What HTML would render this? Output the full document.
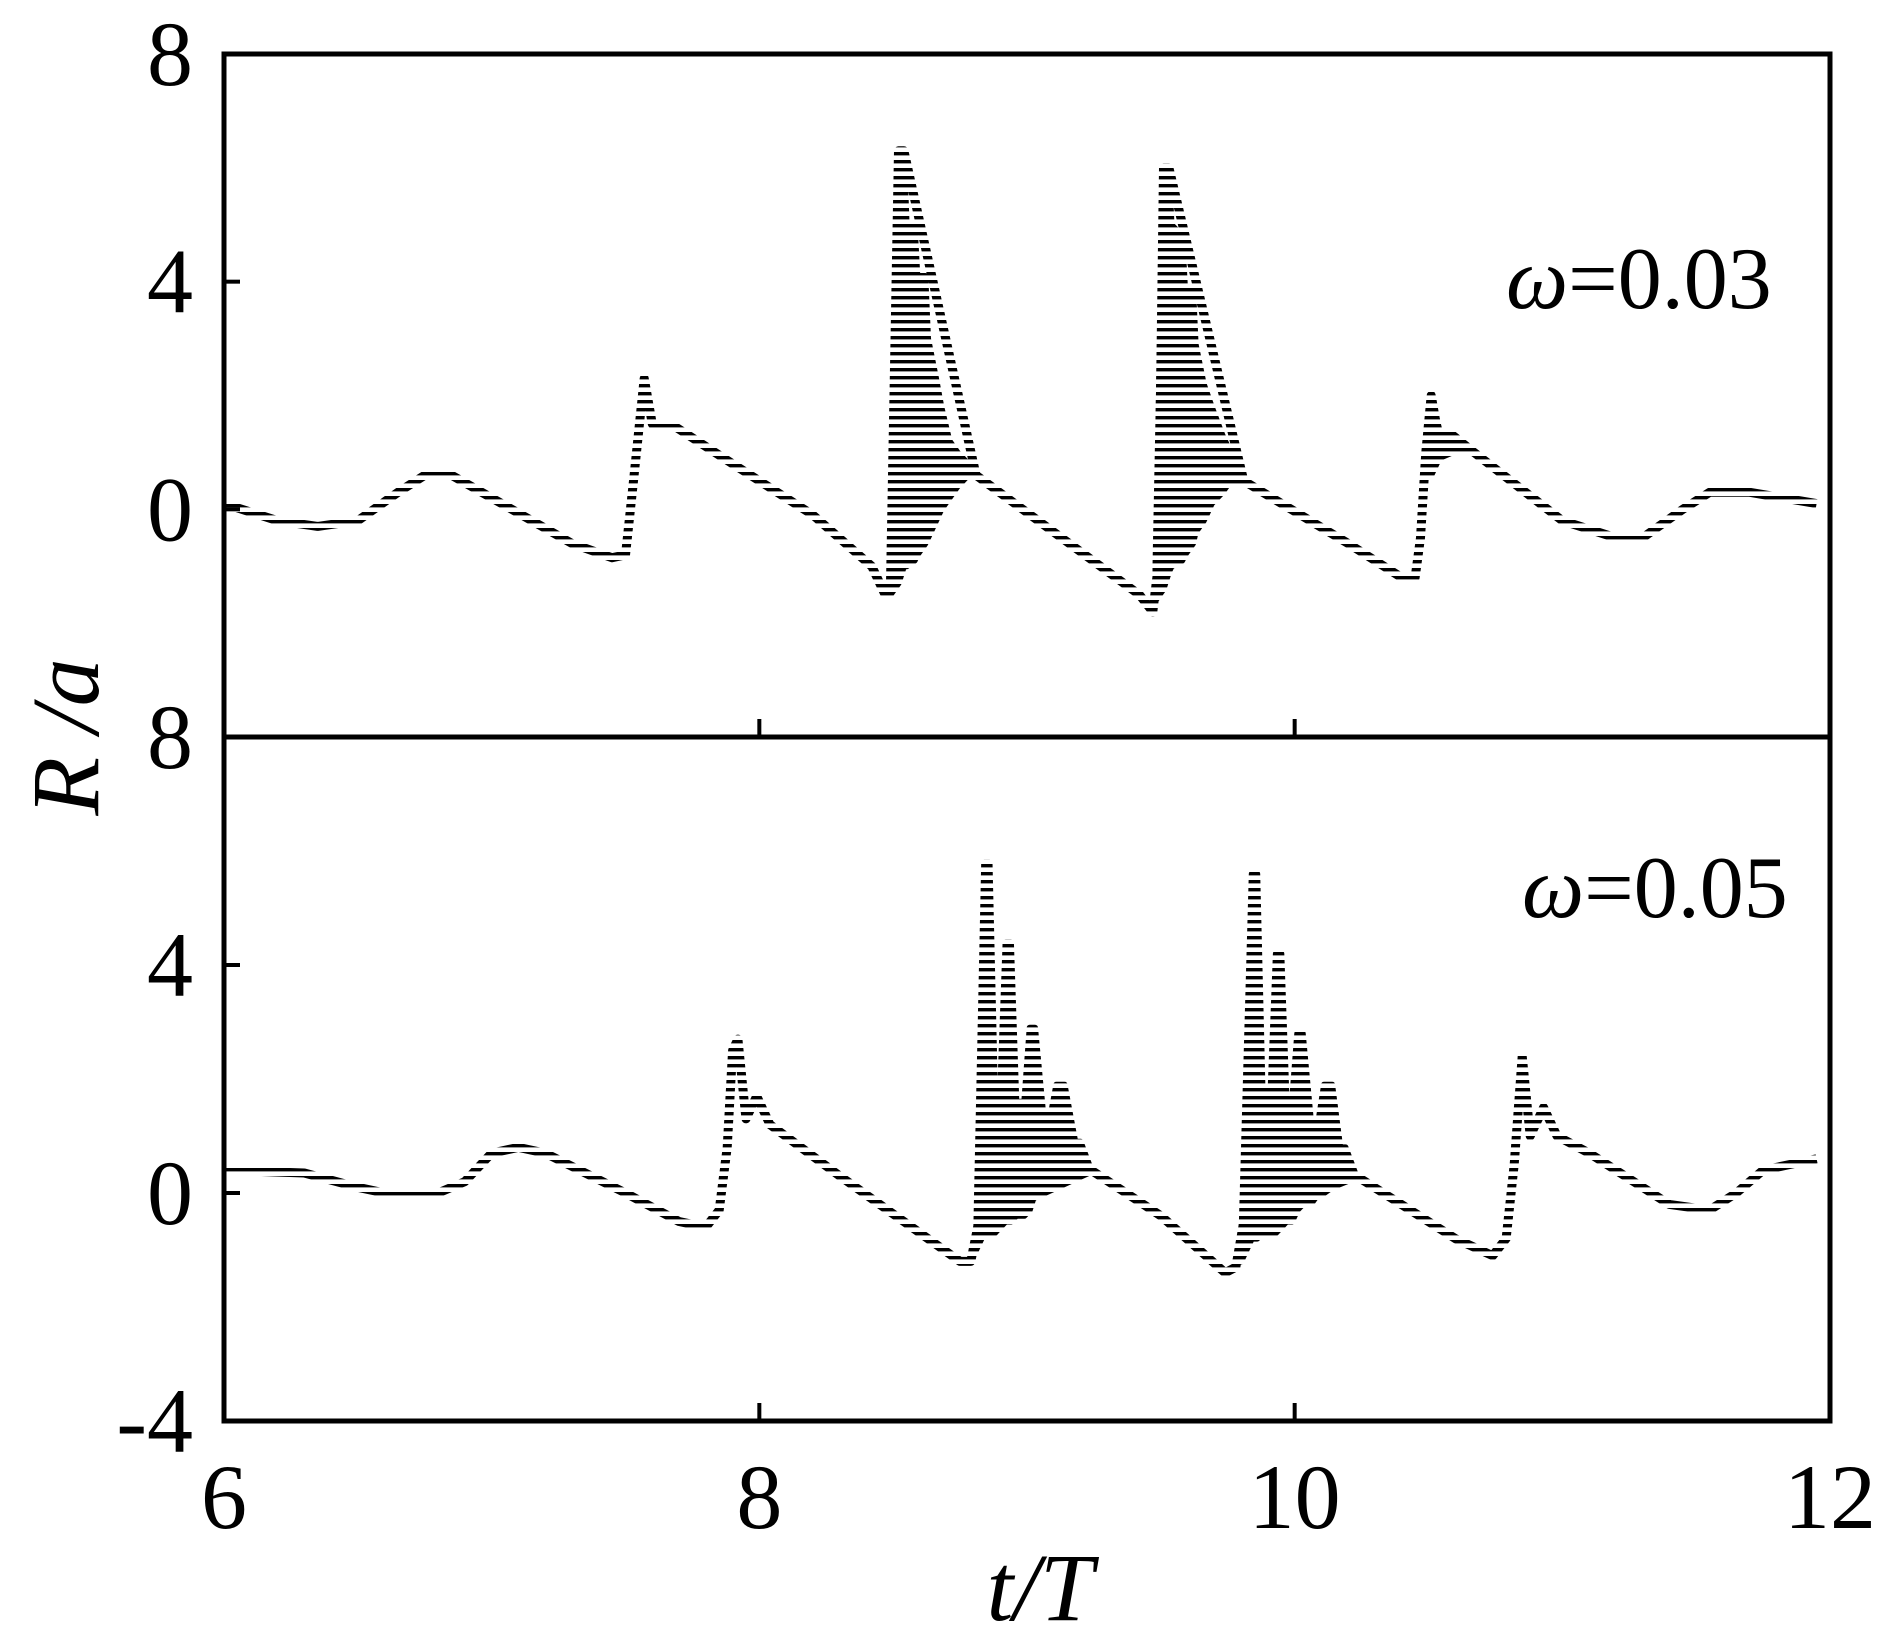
<!DOCTYPE html>
<html><head><meta charset="utf-8"><style>
html,body{margin:0;padding:0;background:#fff;}
svg{display:block;}
text{font-family:"Liberation Serif","Times New Roman",Times,serif;fill:#000;}
</style></head><body>
<svg id="chart" width="1882" height="1642" viewBox="0 0 1882 1642" xmlns="http://www.w3.org/2000/svg">
<defs>
<pattern id="stripes" x="0" y="0" width="20" height="8" patternUnits="userSpaceOnUse">
<rect x="0" y="0" width="20" height="3.4" fill="#fff"/>
</pattern>
<mask id="stripeMask" maskUnits="userSpaceOnUse" x="0" y="0" width="1882" height="1642">
<rect x="0" y="0" width="1882" height="1642" fill="url(#stripes)"/>
</mask>
</defs>
<g id="marks" mask="url(#stripeMask)"></g>
<g id="axes"></g>
</svg>
<script>
// ---- data ----
const xTicks = [6, 8, 10, 12];
const yTicks = [8, 4, 0, -4];
// top panel (omega = 0.03) curve
const topT = [6.0,6.2,6.35,6.5,6.65,6.75,6.85,7.0,7.3,7.45,7.5,7.53,7.57,7.6,7.67,7.9,8.2,8.42,8.47,8.49,8.52,8.54,8.81,9.1,9.42,9.47,9.49,9.51,9.53,9.81,10.2,10.4,10.45,10.47,10.49,10.51,10.54,10.59,10.67,11.0,11.2,11.3,11.45,11.55,11.7,11.95];
const topR = [0.1,-0.2,-0.3,-0.2,0.3,0.6,0.6,0.2,-0.6,-0.85,-0.8,0.5,2.3,1.5,1.5,0.8,-0.1,-1.0,-1.5,-1.3,6.3,6.3,0.6,-0.4,-1.5,-1.8,-1.0,6.0,6.0,0.5,-0.6,-1.2,-1.2,-0.5,1.0,2.0,1.2,1.3,1.0,-0.2,-0.5,-0.5,0.0,0.3,0.3,0.1];
// top panel oscillation envelopes
const topEnvT = [8.49,8.52,8.54,8.55,8.58,8.59,8.62,8.63,8.66,8.68,8.71,8.74,8.78,8.81, 9.48,9.51,9.53,9.54,9.58,9.59,9.62,9.63,9.66,9.69,9.73,9.76,9.81, 10.49,10.51,10.54,10.59,10.63];
const topEnvHi = [-1,6.3,6.3,5.0,5.0,4.1,4.1,3.0,2.3,1.8,1.2,1.0,0.8,0.6, -1,6.0,6.0,5.0,4.8,3.9,3.9,2.9,2.2,1.8,1.3,1.0,0.6, 1.0,2.0,1.4,1.3,1.0];
const topEnvLo = [-1.5,-1.3,-1.0,-1.0,-0.9,-0.8,-0.6,-0.5,-0.2,0.0,0.2,0.4,0.6,0.6, -1.6,-1.4,-1.1,-1.0,-0.9,-0.8,-0.6,-0.4,-0.2,0.1,0.3,0.5,0.5, 0.9,0.6,0.9,1.0,1.0];
const topEnvGroup = [0,0,0,0,0,0,0,0,0,0,0,0,0,0, 1,1,1,1,1,1,1,1,1,1,1,1,1, 2,2,2,2,2];
// bottom panel (omega = 0.05) curve
const botT = [6.0,6.3,6.5,6.6,6.8,6.9,7.0,7.1,7.2,7.5,7.7,7.8,7.85,7.88,7.9,7.92,7.95,7.99,8.04,8.3,8.6,8.75,8.79,8.82,9.24,9.5,9.74,9.78,9.81,10.23,10.6,10.74,10.79,10.82,10.85,10.88,10.93,10.98,11.1,11.4,11.55,11.65,11.75,11.85,11.95];
const botR = [0.4,0.35,0.1,0.0,0.0,0.2,0.7,0.8,0.7,0.0,-0.5,-0.6,-0.3,0.8,2.5,2.7,1.3,1.7,1.2,0.3,-0.7,-1.2,-1.2,-0.5,0.4,-0.4,-1.4,-1.3,-0.5,0.3,-0.8,-1.1,-0.8,0.5,2.4,1.0,1.5,1.0,0.7,-0.2,-0.3,0.0,0.4,0.5,0.6];
// bottom panel oscillation envelopes
const botEnvT = [8.81,8.84,8.86,8.88,8.9,8.92,8.94,8.96,8.99,9.01,9.03,9.06,9.09,9.11,9.14,9.18,9.2,9.24, 9.8,9.84,9.86,9.88,9.91,9.93,9.95,9.97,9.99,10.01,10.03,10.06,10.09,10.11,10.14,10.17,10.19,10.23];
const botEnvHi = [-0.8,5.8,5.8,1.8,1.8,4.4,4.4,1.6,1.6,2.9,2.9,1.4,1.4,1.9,1.9,0.9,0.9,0.4, -1.0,5.6,5.6,1.8,1.8,4.2,4.2,1.6,1.6,2.8,2.8,1.3,1.3,1.9,1.9,0.8,0.8,0.3];
const botEnvLo = [-1.0,-0.7,-0.7,-0.7,-0.6,-0.5,-0.5,-0.4,-0.4,-0.3,0.0,0.0,0.1,0.2,0.3,0.3,0.3,0.4, -1.2,-0.8,-0.8,-0.7,-0.7,-0.7,-0.6,-0.5,-0.5,-0.3,-0.2,-0.2,0.0,0.0,0.1,0.2,0.3,0.3];
const botEnvGroup = [0,0,0,0,0,0,0,0,0,0,0,0,0,0,0,0,0,0, 1,1,1,1,1,1,1,1,1,1,1,1,1,1,1,1,1,1];

// ---- layout ----
const L = 224, R = 1830;
const panels = [{top:54, bot:737}, {top:737, bot:1421}];
const xMin = 6, xMax = 12, yMin = -4, yMax = 8;
const NS = "http://www.w3.org/2000/svg";
function sx(t){ return L + (t - xMin) / (xMax - xMin) * (R - L); }
function sy(v, p){ return p.bot - (v - yMin) / (yMax - yMin) * (p.bot - p.top); }

const marks = document.getElementById('marks');
const axes = document.getElementById('axes');

function mk(tag, attrs, parent){
  const e = document.createElementNS(NS, tag);
  for (const k in attrs) e.setAttribute(k, attrs[k]);
  parent.appendChild(e);
  return e;
}

function drawSeries(ts, rs, p, name){
  let d = '';
  for (let i = 0; i < ts.length; i++) d += (i ? 'L' : 'M') + sx(ts[i]).toFixed(1) + ',' + sy(rs[i], p).toFixed(1);
  const path = mk('path', {d:d, fill:'none', stroke:'#000', 'stroke-width':9, 'stroke-linejoin':'round'}, marks);
  
  
}
function drawEnv(ts, hi, lo, grp, p, name){
  const groups = {};
  for (let i = 0; i < ts.length; i++){ (groups[grp[i]] = groups[grp[i]] || []).push(i); }
  for (const g in groups){
    const idx = groups[g];
    let d = '';
    idx.forEach((i, k) => { d += (k ? 'L' : 'M') + sx(ts[i]).toFixed(1) + ',' + sy(hi[i], p).toFixed(1); });
    idx.slice().reverse().forEach(i => { d += 'L' + sx(ts[i]).toFixed(1) + ',' + sy(lo[i], p).toFixed(1); });
    d += 'Z';
    const poly = mk('path', {d:d, fill:'#000', stroke:'#000', 'stroke-width':6, 'stroke-linejoin':'round'}, marks);
    
    
  }
}
drawSeries(topT, topR, panels[0], 'series-omega-003');
drawEnv(topEnvT, topEnvHi, topEnvLo, topEnvGroup, panels[0], 'series-omega-003');
drawSeries(botT, botR, panels[1], 'series-omega-005');
drawEnv(botEnvT, botEnvHi, botEnvLo, botEnvGroup, panels[1], 'series-omega-005');

// frames
panels.forEach((p, pi) => {
  const f = mk('rect', {x:L, y:p.top, width:R-L, height:p.bot-p.top, fill:'none', stroke:'#000', 'stroke-width':5}, axes);
  
  
  yTicks.forEach(v => {
    if (pi === 0 && v === -4) return;
    const y = sy(v, p);
    const tk = mk('line', {x1:L, x2:L+16, y1:y, y2:y, stroke:'#000', 'stroke-width':4}, axes);
    
    
    const tx = mk('text', {x:193, y:y+31, 'text-anchor':'end', 'font-size':92}, axes);
    tx.textContent = String(v);
    
    
  });
  xTicks.forEach(t => {
    if (t === 6 || t === 12) return;
    const x = sx(t);
    const tk = mk('line', {x1:x, x2:x, y1:p.bot, y2:p.bot-18, stroke:'#000', 'stroke-width':4}, axes);
    
    
  });
});
xTicks.forEach(t => {
  const tx = mk('text', {x:sx(t), y:1528, 'text-anchor':'middle', 'font-size':92}, axes);
  tx.textContent = String(t);
  
  
});

const l1 = mk('text', {x:1506, y:308, 'font-size':88}, axes);
l1.innerHTML = '<tspan font-style="italic">ω</tspan>=0.03';


const l2 = mk('text', {x:1522, y:917, 'font-size':88}, axes);
l2.innerHTML = '<tspan font-style="italic">ω</tspan>=0.05';



const yt = mk('text', {x:0, y:0, 'font-size':96, 'font-style':'italic', 'text-anchor':'middle', transform:'translate(98,737) rotate(-90)'}, axes);
yt.textContent = 'R /a';


const xt = mk('text', {x:1040, y:1620, 'font-size':96, 'font-style':'italic', 'text-anchor':'middle'}, axes);
xt.textContent = 't/T';


</script>
</body></html>
